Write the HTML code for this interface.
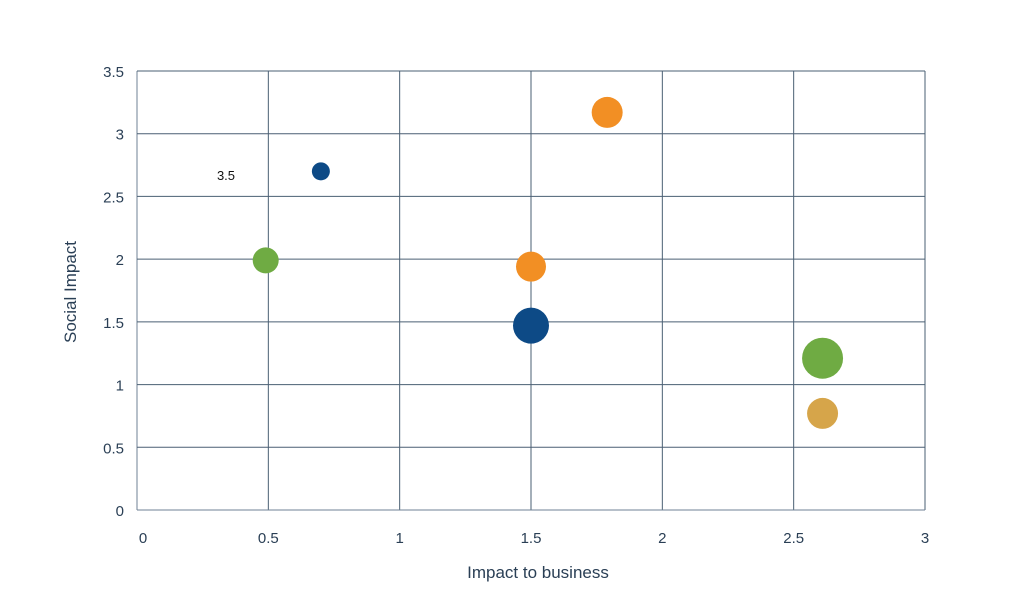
<!DOCTYPE html>
<html><head><meta charset="utf-8"><style>
html,body{margin:0;padding:0;background:#fff;}
svg{display:block;font-family:"Liberation Sans",sans-serif;}
</style></head><body>
<svg id="chart" width="1024" height="610">
<g id="grid"></g>
<g id="ticks"></g>
<g id="bubbles"></g>
<text x="226" y="180" font-size="13" fill="#111" text-anchor="middle">3.5</text>
<text x="538" y="578" font-size="17" fill="#2a3f55" text-anchor="middle">Impact to business</text>
<text transform="translate(76,292) rotate(-90)" font-size="17" fill="#2a3f55" text-anchor="middle">Social Impact</text>
</svg>
<script>
const xTicks=[0,0.5,1,1.5,2,2.5,3];
const yTicks=[0,0.5,1,1.5,2,2.5,3,3.5];
const xVals=[0.70,1.79,0.49,1.50,1.50,2.61,2.61];
const yVals=[2.70,3.17,1.99,1.94,1.47,1.21,0.77];
const sizes=[9,15.5,13,15,18,20.5,15.5];
const colors=["#0d4a86","#f28f24","#6fab43","#f28f24","#0d4a86","#6fab43","#d6a54a"];
const X0=137,X1=925,Y0=510,Y1=71;
const sx=v=>X0+(v-0)/(3-0)*(X1-X0);
const sy=v=>Y0-(v-0)/(3.5-0)*(Y0-Y1);
const NS="http://www.w3.org/2000/svg";
const grid=document.getElementById('grid'),ticks=document.getElementById('ticks'),bub=document.getElementById('bubbles');
function mk(tag,attrs,parent){const e=document.createElementNS(NS,tag);for(const k in attrs)e.setAttribute(k,attrs[k]);parent.appendChild(e);return e;}
xTicks.forEach((t,i)=>{
  const l=mk('line',{x1:sx(t),x2:sx(t),y1:Y1,y2:Y0,stroke:i===0?'#6f8294':'#4a5f73','stroke-width':1},grid);
  
  
  const tx=mk('text',{x:sx(t)+(i===0?6:0),y:543,'font-size':15,fill:'#2a3f55','text-anchor':'middle'},ticks);
  tx.textContent=t;
  
  
});
yTicks.forEach((t,i)=>{
  const l=mk('line',{x1:X0,x2:X1,y1:sy(t),y2:sy(t),stroke:i===0?'#6f8294':'#4a5f73','stroke-width':1},grid);
  
  
  const tx=mk('text',{x:124,y:sy(t)+6,'font-size':15,fill:'#2a3f55','text-anchor':'end'},ticks);
  tx.textContent=t;
  
  
});
xVals.forEach((v,i)=>{
  const c=mk('circle',{cx:sx(v),cy:sy(yVals[i]),r:sizes[i],fill:colors[i]},bub);
  
  
});
</script>
</body></html>
